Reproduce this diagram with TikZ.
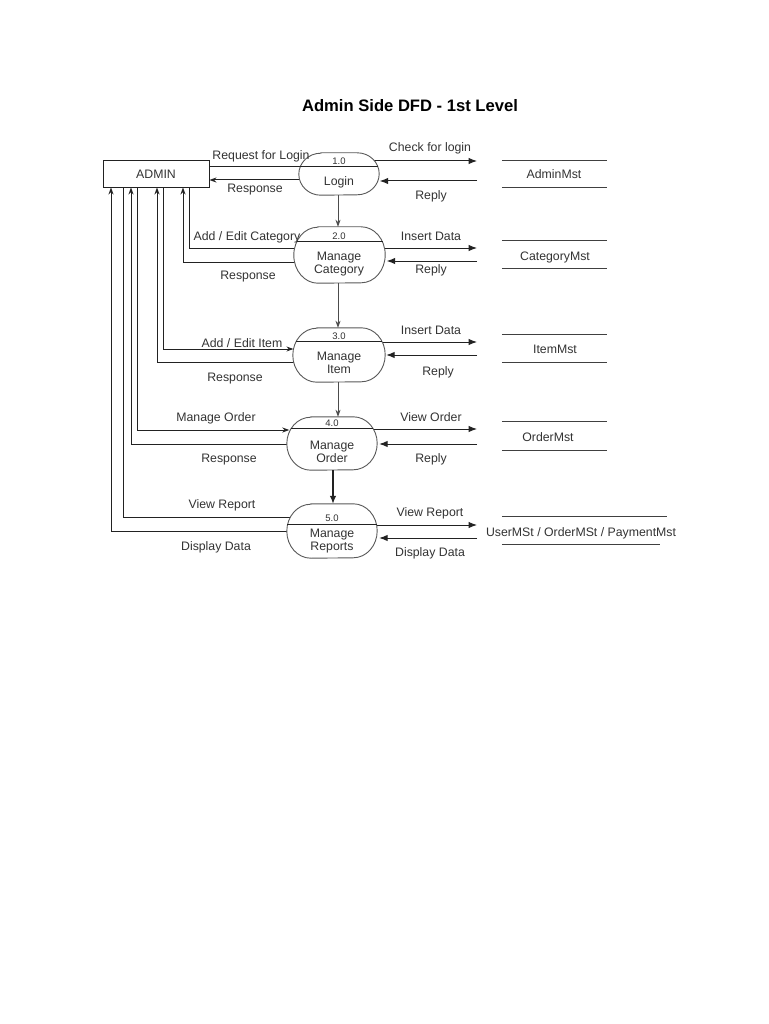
\documentclass[tikz,border=0pt]{standalone}
\usepackage{fontspec}
\setmainfont{Liberation Sans}
\usetikzlibrary{arrows.meta,backgrounds}
\definecolor{ink}{HTML}{222222}
\definecolor{txt}{HTML}{333333}
\begin{document}
\begin{tikzpicture}[x=1pt,y=-1pt,
  lbl/.style={inner sep=0pt,text height=8.8pt,text depth=0pt,align=center,text=txt,font=\fontsize{12.3}{13}\selectfont},
  mlbl/.style={inner sep=0pt,text depth=0pt,align=center,text=txt,font=\fontsize{12.3}{13}\selectfont},
  num/.style={inner sep=0pt,text height=6.8pt,text depth=0pt,text=txt,font=\fontsize{9.5}{10}\selectfont},
  proc/.style={inner sep=0pt},
  bubble/.style={draw=black!65,line width=0.9pt,fill=white},
  divline/.style={draw=ink,line width=0.9pt},
  flow/.style={draw=ink,line width=1pt},
  tipin/.style={-{Stealth[length=7pt,width=5pt]}},
  tipst/.style={-{Latex[length=8.5pt,width=6.5pt]}},
  storeline/.style={draw=black!75,line width=0.9pt},
  storebox/.style={inner sep=0pt}
]
\useasboundingbox (0,0) rectangle (768,1024);

% title
\node[inner sep=0pt,text=black,font=\fontsize{16.6}{18}\selectfont\bfseries] (title) at (410,106) {Admin Side DFD - 1st Level};

% external entity
\node[draw=ink,line width=0.9pt,minimum width=106pt,minimum height=27pt,inner sep=0pt] (admin) at (156,173.5) {};
\node[lbl] (admint) at (156,174) {ADMIN};

% processes (frames)
\node[proc,minimum width=80pt,minimum height=42pt] (p1) at (339,174) {};
\node[proc,minimum width=91pt,minimum height=56pt] (p2) at (339.5,255) {};
\node[proc,minimum width=92pt,minimum height=54pt] (p3) at (339,355) {};
\node[proc,minimum width=90pt,minimum height=53pt] (p4) at (332,443.5) {};
\node[proc,minimum width=90pt,minimum height=54pt] (p5) at (332,531) {};

% bubble outlines: flat top and bottom, elliptical sides
\foreach \p/\rx/\ry in {p1/22/21,p2/24/28,p3/24/27,p4/24/26.5,p5/24/27}{
  \draw[bubble] ([xshift=\rx pt]\p.north west) -- ([xshift=-\rx pt]\p.north east)
    arc[start angle=90,end angle=-90,x radius=\rx pt,y radius=\ry pt]
    -- ([xshift=\rx pt]\p.south west)
    arc[start angle=270,end angle=90,x radius=\rx pt,y radius=\ry pt] -- cycle;
}

% dividers
\draw[divline] ([yshift=-14pt,xshift=1.4pt]p1.north west) -- ([yshift=-14pt,xshift=-1.4pt]p1.north east);
\draw[divline] ([yshift=-15pt,xshift=2.7pt]p2.north west) -- ([yshift=-15pt,xshift=-2.7pt]p2.north east);
\draw[divline] ([yshift=-14pt,xshift=3pt]p3.north west) -- ([yshift=-14pt,xshift=-3pt]p3.north east);
\draw[divline] ([yshift=-12pt,xshift=3.9pt]p4.north west) -- ([yshift=-12pt,xshift=-3.9pt]p4.north east);
\draw[divline] ([yshift=-21pt,xshift=0.6pt]p5.north west) -- ([yshift=-21pt,xshift=-0.6pt]p5.north east);

% process texts
\node[num] (n1) at (339,161) {1.0};
\node[lbl] (t1) at (339,181) {Login};
\node[num] (n2) at (339,236) {2.0};
\node[mlbl] (t2) at (339,263) {Manage\\Category};
\node[num] (n3) at (339,336) {3.0};
\node[mlbl] (t3) at (339,363) {Manage\\Item};
\node[num] (n4) at (332,423) {4.0};
\node[mlbl] (t4) at (332,451.5) {Manage\\Order};
\node[num] (n5) at (332,518) {5.0};
\node[mlbl] (t5) at (332,540) {Manage\\Reports};

% data stores
\node[storebox,minimum width=105pt,minimum height=26pt] (s1) at (554.5,174) {};
\node[storebox,minimum width=105pt,minimum height=27pt] (s2) at (554.5,254.5) {};
\node[storebox,minimum width=105pt,minimum height=27pt] (s3) at (554.5,348.5) {};
\node[storebox,minimum width=105pt,minimum height=28pt] (s4) at (554.5,436) {};
\node[storebox,minimum width=165pt,minimum height=27pt] (s5) at (584.5,530.5) {};
\foreach \s in {s1,s2,s3,s4}{
  \draw[storeline] (\s.north west) -- (\s.north east);
  \draw[storeline] (\s.south west) -- (\s.south east);
}
\draw[storeline] (s5.north west) -- (s5.north east);
\draw[storeline] (s5.south west) -- ([xshift=-7pt]s5.south east);
\node[lbl] (s1t) at (554,174) {AdminMst};
\node[lbl] (s2t) at (555,256) {CategoryMst};
\node[lbl] (s3t) at (555,349) {ItemMst};
\node[lbl] (s4t) at (548,437) {OrderMst};
\node[lbl] (s5t) at (581,532) {UserMSt / OrderMSt / PaymentMst};

% bend / end coordinates
\coordinate (b2i) at (189,248);
\coordinate (b2o) at (183,262);
\coordinate (b3i) at (163,349);
\coordinate (b3o) at (157,362);
\coordinate (b4i) at (137,430);
\coordinate (b4o) at (131,444);
\coordinate (b5i) at (123,517);
\coordinate (b5o) at (111,531);
\coordinate (r1o) at (477,161);
\coordinate (r1i) at (477,181);
\coordinate (r2o) at (477,248);
\coordinate (r2i) at (477,261);
\coordinate (r3o) at (477,342);
\coordinate (r3i) at (477,355);
\coordinate (r4o) at (477,429);
\coordinate (r4i) at (477,444);
\coordinate (r5o) at (477,525);
\coordinate (r5i) at (477,538);
\coordinate (y1i) at (0,167);
\coordinate (y1o) at (0,180);

\begin{pgfonlayer}{background}
\fill[white] (0,0) rectangle (768,1024);
% admin <-> login
\draw[flow] (admin.east |- y1i) -- (p1.center |- y1i);
\draw[flow,tipin] (p1.center |- y1o) -- (admin.east |- y1o);
% admin <-> category
\draw[flow] (admin.south -| b2i) -- (b2i) -- (p2.center |- b2i);
\draw[flow,tipin] (p2.center |- b2o) -- (b2o) -- (admin.south -| b2o);
% admin <-> item
\draw[flow,tipin] (admin.south -| b3i) -- (b3i) -- ([xshift=0.6pt]p3.west |- b3i);
\draw[flow,tipin] (p3.center |- b3o) -- (b3o) -- (admin.south -| b3o);
% admin <-> order
\draw[flow,tipin] (admin.south -| b4i) -- (b4i) -- ([xshift=2.5pt]p4.west |- b4i);
\draw[flow,tipin] (p4.center |- b4o) -- (b4o) -- (admin.south -| b4o);
% admin <-> reports
\draw[flow] (admin.south -| b5i) -- (b5i) -- (p5.center |- b5i);
\draw[flow,tipin] (p5.center |- b5o) -- (b5o) -- (admin.south -| b5o);
% process to store flows
\draw[flow,tipst] (p1.center |- r1o) -- (r1o);
\draw[flow,tipst] (r1i) -- ([xshift=0.5pt]p1.east |- r1i);
\draw[flow,tipst] (p2.center |- r2o) -- (r2o);
\draw[flow,tipst] (r2i) -- ([xshift=1.5pt]p2.east |- r2i);
\draw[flow,tipst] (p3.center |- r3o) -- (r3o);
\draw[flow,tipst] (r3i) -- ([xshift=1pt]p3.east |- r3i);
\draw[flow,tipst] (p4.center |- r4o) -- (r4o);
\draw[flow,tipst] (r4i) -- ([xshift=2pt]p4.east |- r4i);
\draw[flow,tipst] (p5.center |- r5o) -- (r5o);
\draw[flow,tipst] (r5i) -- ([xshift=2pt]p5.east |- r5i);
\end{pgfonlayer}

% process chain
\draw[draw=black!70,line width=0.8pt,tipin] ([xshift=-1pt]p1.south) -- ([xshift=-1.5pt]p2.north);
\draw[draw=black!70,line width=0.8pt,tipin] ([xshift=-1.5pt]p2.south) -- ([xshift=-1pt]p3.north);
\draw[draw=black!70,line width=0.8pt,tipin] ([xshift=-1pt]p3.south) -- ([xshift=6pt]p4.north);
\draw[draw=ink,line width=1.3pt,-{Latex[length=8pt,width=6.5pt]}] ([xshift=1pt]p4.south) -- ([xshift=1pt]p5.north);

% flow labels left
\node[lbl] (l1a) at (261,155) {Request for Login};
\node[lbl] (l1b) at (255,188) {Response};
\node[lbl] (l2a) at (247,236) {Add / Edit Category};
\node[lbl] (l2b) at (248,275) {Response};
\node[lbl] (l3a) at (242,343) {Add / Edit Item};
\node[lbl] (l3b) at (235,377) {Response};
\node[lbl] (l4a) at (216,417) {Manage Order};
\node[lbl] (l4b) at (229,458) {Response};
\node[lbl] (l5a) at (222,504) {View Report};
\node[lbl] (l5b) at (216,546) {Display Data};

% flow labels right
\node[lbl] (r1a) at (430,147) {Check for login};
\node[lbl] (r1b) at (431,195) {Reply};
\node[lbl] (r2a) at (431,236) {Insert Data};
\node[lbl] (r2b) at (431,269) {Reply};
\node[lbl] (r3a) at (431,330) {Insert Data};
\node[lbl] (r3b) at (438,371) {Reply};
\node[lbl] (r4a) at (431,417) {View Order};
\node[lbl] (r4b) at (431,458) {Reply};
\node[lbl] (r5a) at (430,512) {View Report};
\node[lbl] (r5b) at (430,552) {Display Data};
\end{tikzpicture}
\end{document}
